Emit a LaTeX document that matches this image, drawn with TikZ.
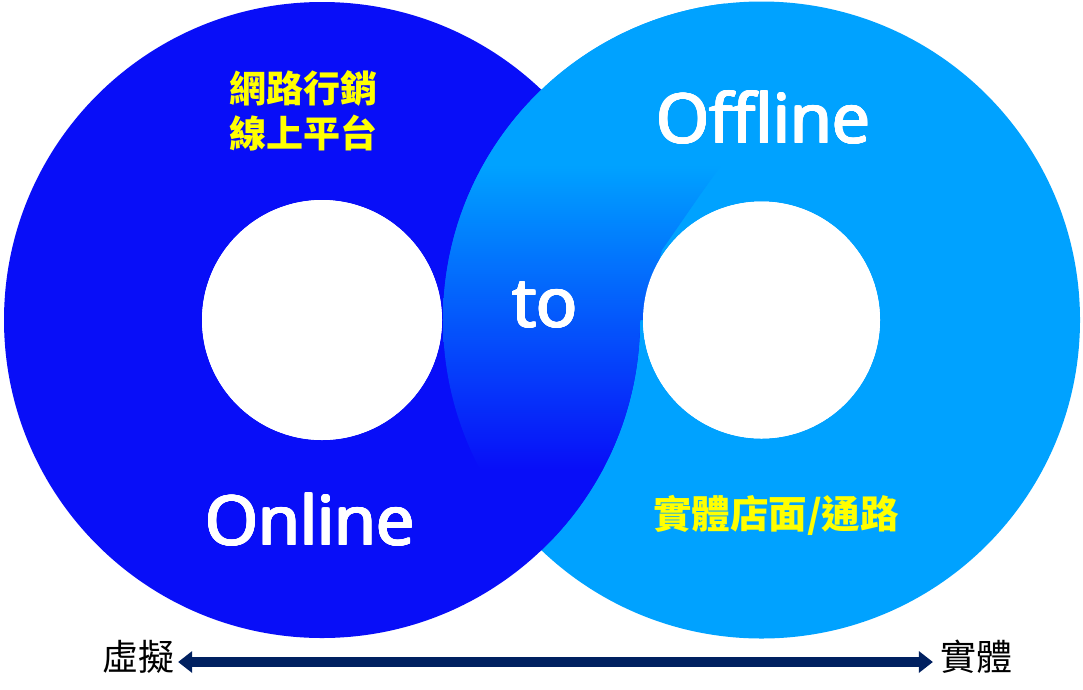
\documentclass[tikz,border=0pt]{standalone}
\usepackage{fontspec}
\usepackage[copies]{contour}
\contourlength{0.9pt}
\contournumber{16}
\setmainfont{Open Sans}
\newfontfamily\latinf{Open Sans}
\newfontfamily\cjk{Noto Sans CJK TC}
\usetikzlibrary{arrows.meta}
\definecolor{db}{RGB}{8,14,248}
\definecolor{lb}{RGB}{0,162,255}
\definecolor{navy}{RGB}{0,32,96}
\definecolor{cjky}{RGB}{255,255,0}
\begin{document}
\begin{tikzpicture}[x=1pt,y=-1pt,
  latin/.style={text=white, font=\latinf\fontsize{68}{80}\selectfont, inner sep=0pt, anchor=base},
  yel/.style={text=cjky, font=\cjk\bfseries\fontsize{37}{45}\selectfont, inner sep=0pt, align=center},
  endlab/.style={text=black, font=\cjk\fontsize{36}{40}\selectfont, inner sep=0pt},
  arr/.style={draw=navy, line width=10pt, {Triangle[width=22pt,length=14pt,line width=0pt]}-{Triangle[width=22pt,length=14pt,line width=0pt]}}
]
\useasboundingbox[fill=white] (0,0) rectangle (1083,689);
% rings
\fill[lb, even odd rule] (761.5,320) circle[radius=318.5pt] (761.5,320) circle[radius=118.5pt];
\fill[db, even odd rule] (322,320) circle[radius=318pt] (322,320) circle[radius=120pt];
% upper left part of the right ring, shaded
\begin{scope}
\clip (761.5,320) circle[radius=318.5pt];
\clip (400,0) -- (725,0) -- (725,160) -- (700,195) -- (662,250) -- (643,320) -- (400,320) -- cycle;
\fill[lb] (400,0) rectangle (725,165);
\shade[top color=lb, bottom color=db] (400,165) rectangle (725,470);
\end{scope}
% overlap with gradient
\begin{scope}
\clip (322,320) circle[radius=318pt];
\clip (761.5,320) circle[radius=318.5pt];
\fill[lb] (400,0) rectangle (725,165);
\shade[top color=lb, bottom color=db] (400,165) rectangle (725,470);
\fill[db] (400,470) rectangle (725,640);
\end{scope}
\fill[white] (322,320) circle[radius=120pt] (761.5,320) circle[radius=118.5pt];
% texts
\node[latin] (on) at (310,545) {\contour{white}{Online}};
\node[latin] (off) at (763.5,143) {\contour{white}{Offline}};
\node[latin] (to) at (545,327) {\contour{white}{to}};
\node[yel] (web) at (303.5,111) {網路行銷\\線上平台};
\node[yel, font=\cjk\bfseries\fontsize{38.5}{45}\selectfont] (store) at (776,515) {實體店面/通路};
\node[endlab] (virt) at (138,657) {虛擬};
\node[endlab] (real) at (976,657) {實體};
\draw[arr] ([shift={(4,5)}]virt.east) -- ([shift={(-7,5)}]real.west);
\end{tikzpicture}
\end{document}
